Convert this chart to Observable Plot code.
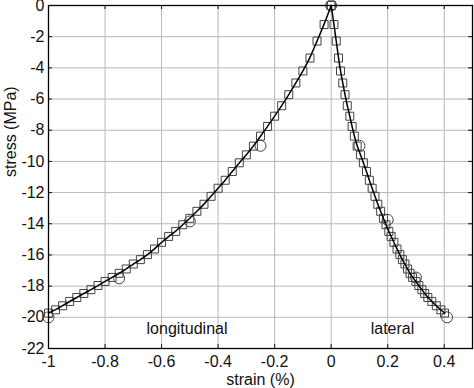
<!DOCTYPE html>
<html>
<head>
<meta charset="utf-8">
<script src="https://cdn.jsdelivr.net/npm/d3@7"></script>
<script src="https://cdn.jsdelivr.net/npm/@observablehq/plot@0.6"></script>
<style>
  html, body { margin: 0; padding: 0; background: #fff; }
  #chart svg { display: block; }
</style>
</head>
<body>
<div id="chart"></div>
<script>
// Measured samples (squares): same stress levels for both strain directions
const stress = [0,-1.22,-2.28,-3.37,-4.20,-4.97,-5.72,-6.43,-7.10,-7.76,-8.38,
  -9.02,-9.58,-10.09,-10.65,-11.21,-11.72,-12.24,-12.75,-13.20,-13.65,
  -14.06,-14.49,-14.81,-15.19,-15.62,-15.98,-16.30,-16.58,-16.90,-17.18,
  -17.44,-17.70,-17.96,-18.23,-18.47,-18.73,-18.98,-19.26,-19.52,-19.73];
const longStrain = [0,-0.025,-0.05,-0.075,-0.1,-0.125,-0.15,-0.175,-0.2,-0.225,-0.25,
  -0.275,-0.3,-0.325,-0.35,-0.375,-0.4,-0.425,-0.45,-0.475,-0.5,
  -0.525,-0.55,-0.575,-0.6,-0.625,-0.65,-0.675,-0.7,-0.725,-0.75,
  -0.775,-0.8,-0.825,-0.85,-0.875,-0.9,-0.925,-0.95,-0.975,-1.0];
const latStrain = [0,0.010,0.018,0.026,0.033,0.041,0.049,0.057,0.066,0.074,0.082,
  0.092,0.104,0.114,0.125,0.135,0.145,0.155,0.165,0.175,0.185,
  0.194,0.204,0.212,0.222,0.233,0.243,0.252,0.261,0.270,0.279,
  0.288,0.300,0.310,0.321,0.331,0.342,0.356,0.372,0.388,0.401];

// Circles
const circleStrain = [-1.0,-0.75,-0.5,-0.25,0,0.1,0.2,0.3,0.41];
const circleStress = [-20.0,-17.5,-13.85,-9.0,0,-9.0,-13.75,-17.45,-20.0];

// Ticks
const xTicks = [-1,-0.8,-0.6,-0.4,-0.2,0,0.2,0.4];
const yTicks = [0,-2,-4,-6,-8,-10,-12,-14,-16,-18,-20,-22];
const xDomain = [-1, 0.5];
const yDomain = [-22, 0];

// Labels
const labels = [
  {text: "longitudinal", x: -0.51, y: -20.74},
  {text: "lateral", x: 0.217, y: -20.74}
];

const longPts = stress.map((s, i) => ({x: longStrain[i], y: s}));
const latPts = stress.map((s, i) => ({x: latStrain[i], y: s}));
const circles = circleStrain.map((x, i) => ({x, y: circleStress[i]}));

const fmt = d => String(d);
const tickLenX = 4 / 283.5; // strain units ~ 4px
const tickLenY = 4 / 15.56; // MPa units ~ 4px

const chart = Plot.plot({
  width: 474,
  height: 388,
  marginLeft: 48,
  marginRight: 2,
  marginTop: 5,
  marginBottom: 40,
  style: {fontFamily: "'Liberation Sans', Arial, sans-serif", fontSize: "16px", color: "#111", background: "#fff"},
  x: {domain: xDomain, label: null},
  y: {domain: yDomain, label: null},
  marks: [
    Plot.gridX(xTicks, {stroke: "#b8b8b8", strokeOpacity: 1}),
    Plot.gridY(yTicks, {stroke: "#b8b8b8", strokeOpacity: 1}),
    Plot.axisX(xTicks, {tickSize: 0, tickPadding: 7, tickFormat: fmt, fontSize: 16, label: null}),
    Plot.axisY(yTicks, {tickSize: 0, tickPadding: 4, tickFormat: fmt, fontSize: 16, label: null}),
    // inward ticks on all four sides
    Plot.ruleX(xTicks, {x: d => d, y1: yDomain[0], y2: yDomain[0] + tickLenY, stroke: "#111"}),
    Plot.ruleX(xTicks, {x: d => d, y1: yDomain[1], y2: yDomain[1] - tickLenY, stroke: "#111"}),
    Plot.ruleY(yTicks, {y: d => d, x1: xDomain[0], x2: xDomain[0] + tickLenX, stroke: "#111"}),
    Plot.ruleY(yTicks, {y: d => d, x1: xDomain[1], x2: xDomain[1] - tickLenX, stroke: "#111"}),
    // data
    Plot.dot(longPts, {x: "x", y: "y", symbol: "square", r: 4.5, stroke: "#444", strokeWidth: 1, fill: "none"}),
    Plot.dot(latPts, {x: "x", y: "y", symbol: "square", r: 4.5, stroke: "#444", strokeWidth: 1, fill: "none"}),
    Plot.dot(circles, {x: "x", y: "y", symbol: "circle", r: 5.5, stroke: "#444", strokeWidth: 1, fill: "none"}),
    Plot.line(longPts, {x: "x", y: "y", curve: "basis", stroke: "#000", strokeWidth: 1.5}),
    Plot.line(latPts, {x: "x", y: "y", curve: "basis", stroke: "#000", strokeWidth: 1.5}),
    Plot.text(labels, {x: "x", y: "y", text: "text", fontSize: 16, fill: "#111", textAnchor: "middle", lineAnchor: "middle"}),
    // axis titles
    Plot.text(["strain (%)"], {frameAnchor: "bottom", dy: 36.5, lineAnchor: "bottom", fontSize: 16, fill: "#111"}),
    Plot.text(["stress (MPa)"], {frameAnchor: "left", dx: -33, rotate: -90, lineAnchor: "bottom", fontSize: 16, fill: "#111"}),
    Plot.frame({stroke: "#000", strokeWidth: 1.3})
  ]
});
document.getElementById("chart").appendChild(chart);
</script>
</body>
</html>
